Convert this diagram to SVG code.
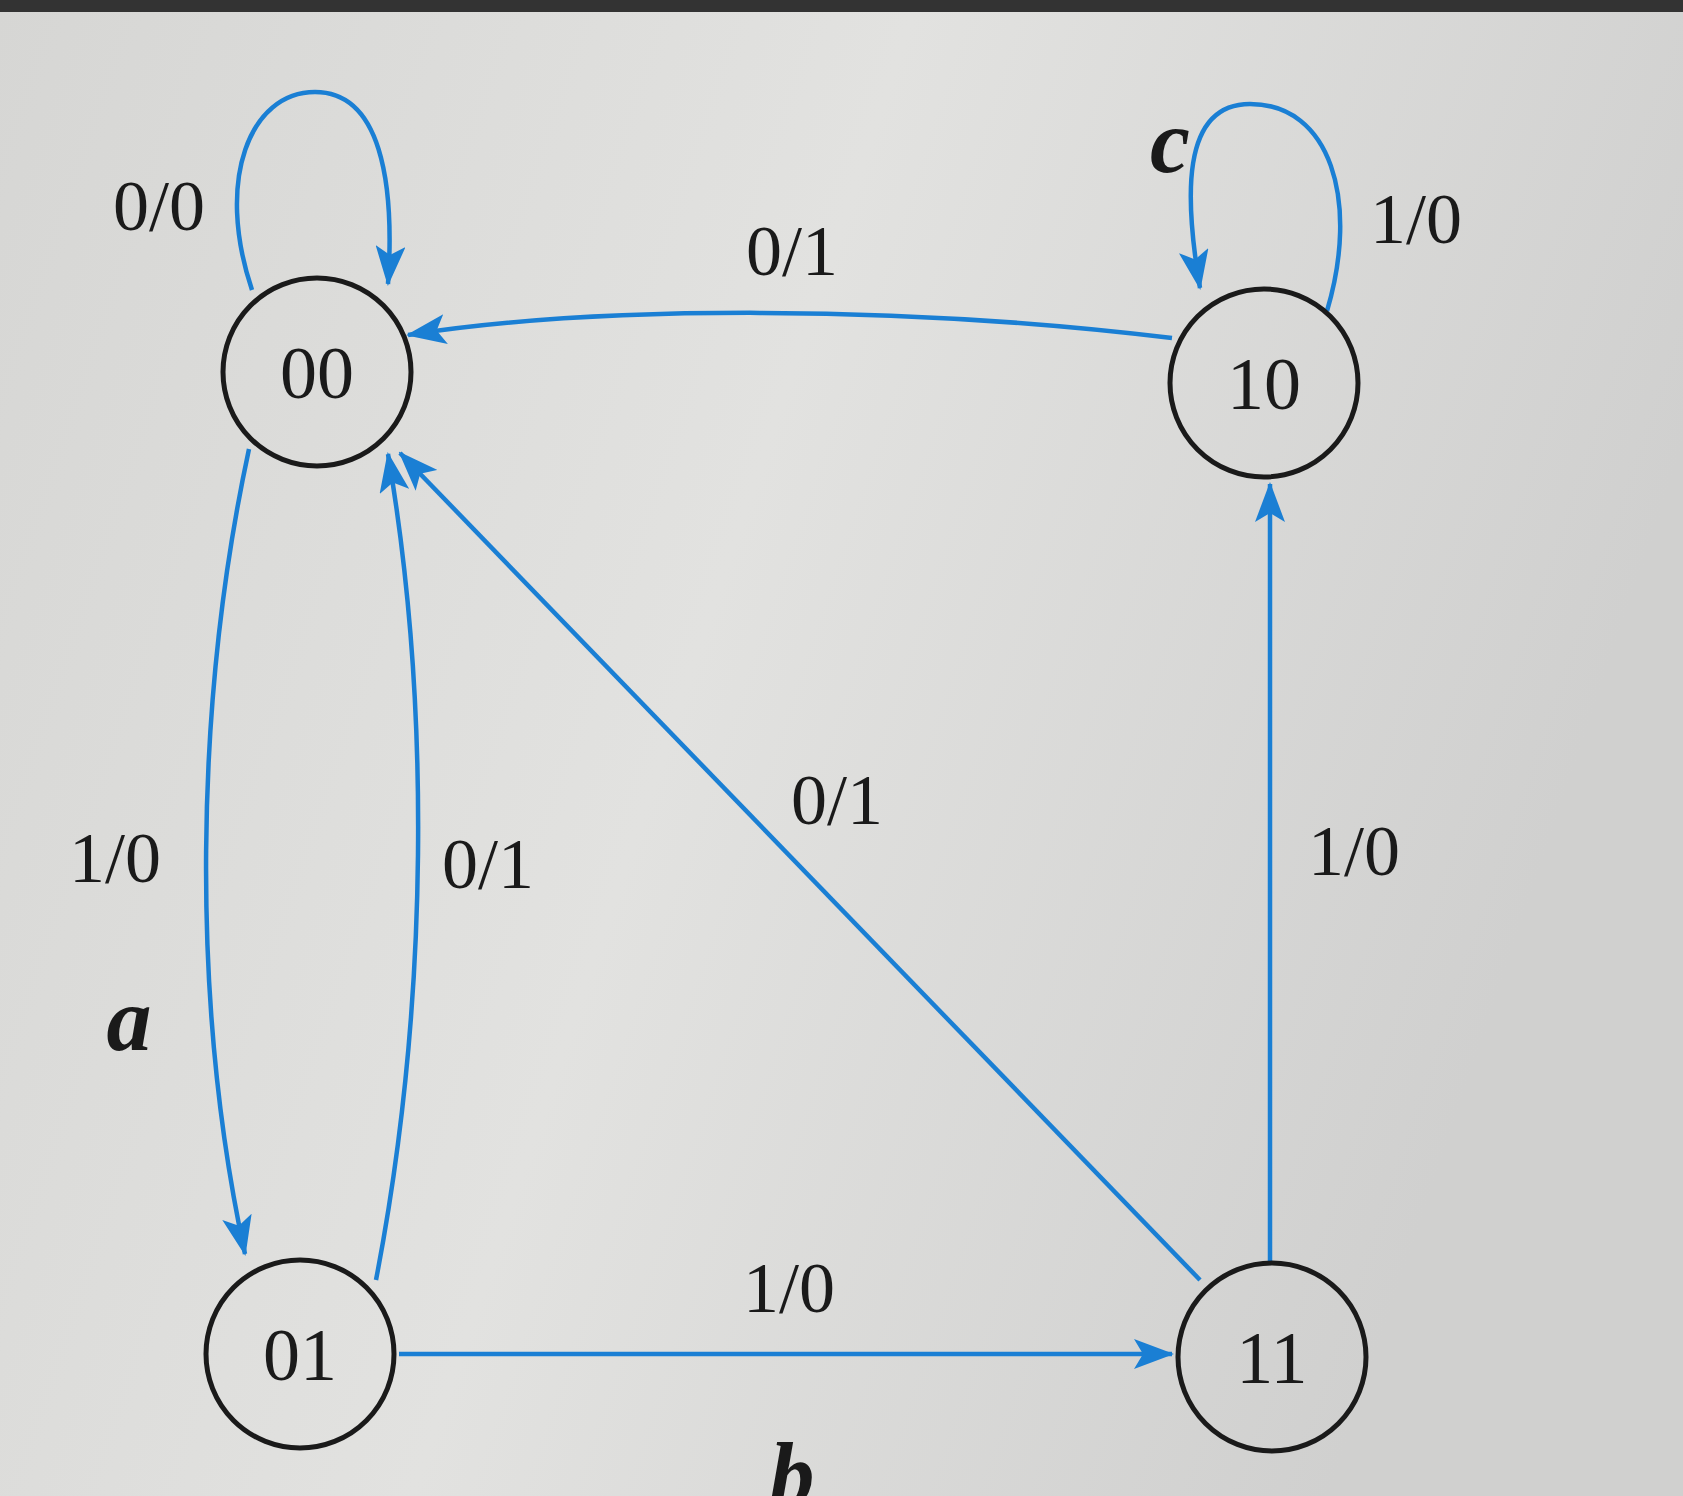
<svg xmlns="http://www.w3.org/2000/svg" width="1683" height="1496" viewBox="0 0 1683 1496">
<defs>
<linearGradient id="bg" x1="0" y1="0" x2="1" y2="0.3">
<stop offset="0" stop-color="#d6d6d4"/><stop offset="0.5" stop-color="#e2e2e0"/><stop offset="1" stop-color="#d0d0cf"/>
</linearGradient>
<marker id="ah" viewBox="0 0 40 30" refX="38" refY="15" markerWidth="40" markerHeight="30" markerUnits="userSpaceOnUse" orient="auto">
<path d="M0,0 L40,15 L0,30 L9,15 Z" fill="#1a7fd4"/>
</marker>
<style>
.n{fill:none;stroke:#1a1a1a;stroke-width:5}
.t{font-family:"Liberation Serif",serif;font-size:74px;fill:#1a1a1a;text-anchor:middle}
.l{font-family:"Liberation Serif",serif;font-size:72px;fill:#1a1a1a;text-anchor:middle}
.v{font-family:"Liberation Serif",serif;font-size:90px;font-weight:bold;font-style:italic;fill:#1a1a1a;text-anchor:middle}
.e{fill:none;stroke:#1a7fd4;stroke-width:4.5;marker-end:url(#ah)}
</style>
</defs>
<rect width="1683" height="1496" fill="url(#bg)"/>
<rect width="1683" height="12" fill="#333"/>
<g id="connectors">
<path class="e" d="M252,290 C 215,180 250,92 315,92 C 380,92 395,180 388,284"/>
<path class="e" d="M249,449 C 195,700 190,1000 245,1254"/>
<path class="e" d="M376,1280 C 430,1000 430,700 388,454"/>
<path class="e" d="M1200,1280 L 400,453"/>
<path class="e" d="M1172,338 C 900,305 600,305 408,335"/>
<path class="e" d="M1327,311 C 1360,200 1330,104 1250,104 C 1180,104 1185,200 1200,288"/>
<path class="e" d="M1270,1262 L 1270,484"/>
<path class="e" d="M399,1354 L 1172,1354"/>
</g>
<g id="n00"><circle class="n" cx="317" cy="372" r="94"/><text class="t" x="317" y="398">00</text></g>
<g id="n10"><circle class="n" cx="1264" cy="383" r="94"/><text class="t" x="1264" y="409">10</text></g>
<g id="n01"><circle class="n" cx="300" cy="1354" r="94"/><text class="t" x="300" y="1380">01</text></g>
<g id="n11"><circle class="n" cx="1272" cy="1357" r="94"/><text class="t" x="1272" y="1383">11</text></g>
<g id="labels">
<text class="l" x="159" y="230">0/0</text>
<text class="l" x="792" y="275">0/1</text>
<text class="l" x="1416" y="243">1/0</text>
<text class="l" x="115" y="882">1/0</text>
<text class="l" x="488" y="888">0/1</text>
<text class="l" x="837" y="824">0/1</text>
<text class="l" x="1354" y="875">1/0</text>
<text class="l" x="789" y="1312">1/0</text>
<text class="v" x="129" y="1050">a</text>
<text class="v" x="792" y="1505">b</text>
<text class="v" x="1170" y="172">c</text>
</g>
</svg>
